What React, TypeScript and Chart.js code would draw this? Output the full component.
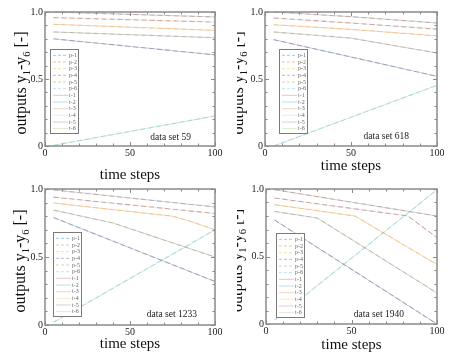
import React, { useEffect, useRef } from 'react';
import { Chart, registerables } from 'chart.js';

Chart.register(...registerables);

type Pt = [number, number];

// ---------- data (time step, output value) ----------
// data set 59
const DS59_Y1: Pt[] = [[5, 0.80], [100, 0.68]];
const DS59_Y2: Pt[] = [[5, 1.0], [100, 0.963]];
const DS59_Y3: Pt[] = [[5, 0.908], [100, 0.863]];
const DS59_Y4: Pt[] = [[5, 0.958], [100, 0.925]];
const DS59_Y5: Pt[] = [[5, 0.851], [100, 0.808]];
const DS59_Y6: Pt[] = [[5, 0.005], [100, 0.224]];

// data set 618
const DS618_Y1: Pt[] = [[5, 0.794], [100, 0.52]];
const DS618_Y2: Pt[] = [[5, 1.0], [50, 0.965], [100, 0.918]];
const DS618_Y3: Pt[] = [[5, 0.905], [50, 0.87], [100, 0.822]];
const DS618_Y4: Pt[] = [[5, 0.955], [50, 0.918], [100, 0.872]];
const DS618_Y5: Pt[] = [[5, 0.851], [50, 0.805], [100, 0.694]];
const DS618_Y6: Pt[] = [[5, 0.0], [100, 0.453]];

// data set 1233
const DS1233_Y1: Pt[] = [[5, 0.79], [100, 0.32]];
const DS1233_Y2: Pt[] = [[5, 0.993], [100, 0.868]];
const DS1233_Y3: Pt[] = [[5, 0.897], [75, 0.80], [85, 0.765], [100, 0.70]];
const DS1233_Y4: Pt[] = [[5, 0.94], [100, 0.82]];
const DS1233_Y5: Pt[] = [[5, 0.845], [40, 0.75], [100, 0.50]];
const DS1233_Y6: Pt[] = [[5, 0.02], [100, 0.70]];

// data set 1940
const DS1940_Y1: Pt[] = [[5, 0.77], [100, 0.0]];
const DS1940_Y2: Pt[] = [[5, 0.995], [100, 0.80]];
const DS1940_Y3: Pt[] = [[5, 0.884], [52, 0.80], [100, 0.44]];
const DS1940_Y4: Pt[] = [[5, 0.933], [83, 0.80], [100, 0.64]];
const DS1940_Y5: Pt[] = [[5, 0.834], [30, 0.785], [100, 0.23]];
const DS1940_Y6: Pt[] = [[5, 0.03], [100, 0.995]];

const P_LABELS = ['p-1', 'p-2', 'p-3', 'p-4', 'p-5', 'p-6'];
const T_LABELS = ['t-1', 't-2', 't-3', 't-4', 't-5', 't-6'];
const X_TICK_STEP = 50;
const Y_TICK_STEP = 0.5;

const P_ALPHA = 0.38;
const T_ALPHA = 0.25;
const P_COLORS = [
  `rgba(0,114,189,${P_ALPHA})`,
  `rgba(217,83,25,${P_ALPHA})`,
  `rgba(237,177,32,${P_ALPHA})`,
  `rgba(126,47,142,${P_ALPHA})`,
  `rgba(119,172,48,${P_ALPHA})`,
  `rgba(77,190,238,${P_ALPHA})`,
];
const T_COLORS = [
  `rgba(162,20,47,${T_ALPHA})`,
  `rgba(0,114,189,${T_ALPHA})`,
  `rgba(217,83,25,${T_ALPHA})`,
  `rgba(237,177,32,${T_ALPHA})`,
  `rgba(126,47,142,${T_ALPHA})`,
  `rgba(119,172,48,${T_ALPHA})`,
];

const SERIF = "'Liberation Serif', 'Times New Roman', serif";

interface Panel {
  name: string;
  series: Pt[][];
  left: number;
  top: number;
  w: number;
  h: number;
  yAxisW: number;
  xAxisH: number;
  padTop: number;
  padRight: number;
  yTitleBaseX: number;
  yTitleDy: number;
  xTitlePadBottom: number;
  legendDx: number;
  legendDy: number;
  nameDx: number;
  nameDy: number;
}

const PANELS: Panel[] = [
  {
    name: 'data set 59',
    series: [DS59_Y1, DS59_Y2, DS59_Y3, DS59_Y4, DS59_Y5, DS59_Y6],
    left: 0, top: 0, w: 237, h: 182,
    yAxisW: 45, xAxisH: 36, padTop: 12, padRight: 22,
    yTitleBaseX: 26, yTitleDy: 4, xTitlePadBottom: -2,
    legendDx: 5, legendDy: 37, nameDx: 24, nameDy: 6,
  },
  {
    name: 'data set 618',
    series: [DS618_Y1, DS618_Y2, DS618_Y3, DS618_Y4, DS618_Y5, DS618_Y6],
    left: 237, top: 0, w: 237, h: 182,
    yAxisW: 28, xAxisH: 36, padTop: 12, padRight: 37,
    yTitleBaseX: 6, yTitleDy: 4, xTitlePadBottom: 7,
    legendDx: 14, legendDy: 37, nameDx: 28, nameDy: 7,
  },
  {
    name: 'data set 1233',
    series: [DS1233_Y1, DS1233_Y2, DS1233_Y3, DS1233_Y4, DS1233_Y5, DS1233_Y6],
    left: 0, top: 182, w: 237, h: 181,
    yAxisW: 45, xAxisH: 38, padTop: 5, padRight: 22,
    yTitleBaseX: 25, yTitleDy: 4, xTitlePadBottom: 10,
    legendDx: 8, legendDy: 43, nameDx: 18, nameDy: 8,
  },
  {
    name: 'data set 1940',
    series: [DS1940_Y1, DS1940_Y2, DS1940_Y3, DS1940_Y4, DS1940_Y5, DS1940_Y6],
    left: 237, top: 182, w: 237, h: 181,
    yAxisW: 29, xAxisH: 39, padTop: 7, padRight: 37,
    yTitleBaseX: 5, yTitleDy: 4, xTitlePadBottom: 9,
    legendDx: 10, legendDy: 44, nameDx: 33, nameDy: 7,
  },
];

const FRAME = '#8a8a8a';

function makeDecor(panel: Panel) {
  return {
    id: 'decor' + panel.name.replace(/\s/g, ''),
    afterDraw(chart: any) {
      const ctx: CanvasRenderingContext2D = chart.ctx;
      const a = chart.chartArea;
      const xs = chart.scales.x;
      const ys = chart.scales.y;
      ctx.save();

      // legend box
      const lx = a.left + panel.legendDx;
      const ly = a.top + panel.legendDy;
      const lw = 28;
      const lh = 84;
      ctx.fillStyle = '#fff';
      ctx.fillRect(lx, ly, lw, lh);
      ctx.strokeStyle = '#7a7a7a';
      ctx.lineWidth = 1;
      ctx.strokeRect(lx + 0.5, ly + 0.5, lw, lh);
      const labels = [...P_LABELS, ...T_LABELS];
      const colors = [...P_COLORS, ...T_COLORS];
      const rowH = (lh - 4) / labels.length;
      ctx.font = `6px ${SERIF}`;
      ctx.textBaseline = 'middle';
      ctx.textAlign = 'left';
      labels.forEach((lab, i) => {
        const yy = ly + 3 + rowH * (i + 0.5);
        ctx.beginPath();
        ctx.strokeStyle = colors[i];
        ctx.lineWidth = 1;
        ctx.setLineDash(i < 6 ? [3, 2] : []);
        ctx.moveTo(lx + 3, yy);
        ctx.lineTo(lx + 18, yy);
        ctx.stroke();
        ctx.setLineDash([]);
        ctx.fillStyle = '#666';
        ctx.fillText(lab, lx + 19, yy);
      });

      // data set name
      ctx.font = `9.5px ${SERIF}`;
      ctx.fillStyle = '#222';
      ctx.textAlign = 'right';
      ctx.textBaseline = 'alphabetic';
      ctx.fillText(panel.name, a.right - panel.nameDx, a.bottom - panel.nameDy);

      // frame
      ctx.strokeStyle = FRAME;
      ctx.lineWidth = 1.5;
      ctx.strokeRect(a.left, a.top, a.right - a.left, a.bottom - a.top);

      // inward minor/major ticks
      ctx.lineWidth = 1;
      ctx.beginPath();
      for (let v = 0; v <= 100; v += 10) {
        const px = Math.round(xs.getPixelForValue(v)) + 0.5;
        const len = v % 50 === 0 ? 4 : 2.5;
        ctx.moveTo(px, a.bottom);
        ctx.lineTo(px, a.bottom - len);
        ctx.moveTo(px, a.top);
        ctx.lineTo(px, a.top + len);
      }
      for (let i = 0; i <= 10; i++) {
        const py = Math.round(ys.getPixelForValue(i / 10)) + 0.5;
        const len = i % 5 === 0 ? 4 : 2.5;
        ctx.moveTo(a.left, py);
        ctx.lineTo(a.left + len, py);
        ctx.moveTo(a.right, py);
        ctx.lineTo(a.right - len, py);
      }
      ctx.stroke();

      // y title with subscripts
      const big = 16;
      const small = 10.5;
      const segs: [string, number, number][] = [
        ['outputs y', big, 0],
        ['1', small, 3.5],
        ['-y', big, 0],
        ['6', small, 3.5],
        [' [-]', big, 0],
      ];
      let total = 0;
      segs.forEach(([t, s]) => {
        ctx.font = `${s}px ${SERIF}`;
        total += ctx.measureText(t).width;
      });
      const cy = (a.top + a.bottom) / 2 + panel.yTitleDy;
      ctx.translate(panel.yTitleBaseX, cy);
      ctx.rotate(-Math.PI / 2);
      ctx.fillStyle = '#111';
      ctx.textAlign = 'left';
      ctx.textBaseline = 'alphabetic';
      let u = -total / 2;
      segs.forEach(([t, s, dv]) => {
        ctx.font = `${s}px ${SERIF}`;
        ctx.fillText(t, u, dv);
        u += ctx.measureText(t).width;
      });
      ctx.restore();
    },
  };
}

function PanelChart({ panel }: { panel: Panel }) {
  const ref = useRef<HTMLCanvasElement | null>(null);
  useEffect(() => {
    if (!ref.current) return;
    const toXY = (pts: Pt[]) => pts.map(([x, y]) => ({ x, y }));
    const pSets = panel.series.map((s, i) => ({
      label: P_LABELS[i],
      data: toXY(s),
      borderColor: P_COLORS[i],
      borderWidth: 1.1,
      borderDash: [5, 3],
      pointRadius: 0,
      fill: false,
      tension: 0,
    }));
    const tSets = panel.series.map((s, i) => ({
      label: T_LABELS[i],
      data: toXY(s),
      borderColor: T_COLORS[i],
      borderWidth: 1,
      pointRadius: 0,
      fill: false,
      tension: 0,
    }));
    const chart = new Chart(ref.current, {
      type: 'line',
      data: { datasets: [...pSets, ...tSets] as any },
      options: {
        animation: false,
        responsive: false,
        events: [],
        layout: { padding: { top: panel.padTop, right: panel.padRight, left: 0, bottom: 0 } },
        plugins: { legend: { display: false }, tooltip: { enabled: false }, title: { display: false } },
        scales: {
          x: {
            type: 'linear',
            min: 0,
            max: 100,
            grid: { display: false, drawTicks: false },
            border: { display: false },
            ticks: {
              stepSize: X_TICK_STEP,
              padding: 2,
              color: '#222',
              font: { family: SERIF, size: 10, lineHeight: 1 },
              maxRotation: 0,
            },
            title: {
              display: true,
              text: 'time steps',
              color: '#111',
              font: { family: SERIF, size: 15 },
              padding: { top: 0, bottom: panel.xTitlePadBottom },
            },
            afterFit: (s: any) => { s.height = panel.xAxisH; },
          },
          y: {
            type: 'linear',
            min: 0,
            max: 1,
            grid: { display: false, drawTicks: false },
            border: { display: false },
            ticks: {
              stepSize: Y_TICK_STEP,
              padding: 2,
              color: '#222',
              font: { family: SERIF, size: 10, lineHeight: 1 },
            },
            afterFit: (s: any) => { s.width = panel.yAxisW; },
          },
        },
      },
      plugins: [makeDecor(panel)],
    });
    return () => chart.destroy();
  }, [panel]);
  return (
    <canvas
      ref={ref}
      width={panel.w}
      height={panel.h}
      style={{ position: 'absolute', left: panel.left, top: panel.top, width: panel.w, height: panel.h, display: 'block' }}
    />
  );
}

export default function App() {
  return (
    <div style={{ position: 'absolute', left: 0, top: 0, width: 474, height: 363, background: '#fff', overflow: 'hidden' }}>
      {PANELS.map((p) => (
        <PanelChart key={p.name} panel={p} />
      ))}
    </div>
  );
}
